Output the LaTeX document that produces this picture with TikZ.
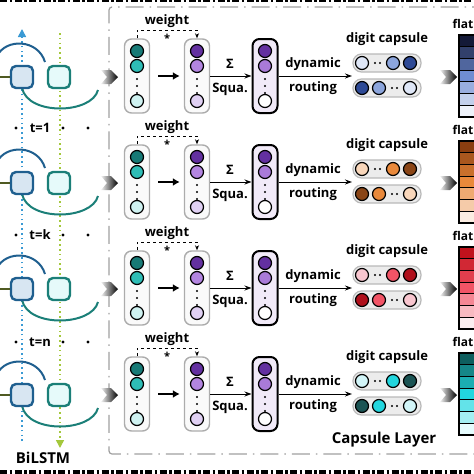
\documentclass[tikz,border=0pt]{standalone}
\usepackage{fontspec}
\setmainfont{Open Sans}
\usetikzlibrary{arrows.meta,positioning}

\definecolor{lstmblue}{HTML}{1F5F8F}
\definecolor{lstmfill}{HTML}{D8E6F2}
\definecolor{lstmteal}{HTML}{1B7F78}
\definecolor{tealfill}{HTML}{E6FAFA}
\definecolor{lstmolive}{HTML}{4F5A22}
\definecolor{fwdblue}{HTML}{3A9AD4}
\definecolor{bwdgreen}{HTML}{A4C83C}
\definecolor{tA1}{HTML}{177A76}
\definecolor{tA2}{HTML}{2EBDB6}
\definecolor{tA3}{HTML}{CFF2F1}
\definecolor{pB1}{HTML}{6330A0}
\definecolor{pB2}{HTML}{B385E0}
\definecolor{pB3}{HTML}{E0D0F3}
\definecolor{pC2}{HTML}{A97AD8}
\definecolor{pCfill}{HTML}{F1EAF8}
% digit capsule / flatten colours per row
\definecolor{d1}{HTML}{2E4A96}\definecolor{m1}{HTML}{6F8DD2}\definecolor{l1}{HTML}{EEF2FA}\definecolor{f1}{HTML}{141A38}
\definecolor{d2}{HTML}{8A4516}\definecolor{m2}{HTML}{E9893B}\definecolor{l2}{HTML}{FBEDE2}\definecolor{f2}{HTML}{8A3E10}
\definecolor{d3}{HTML}{B0101C}\definecolor{m3}{HTML}{F25466}\definecolor{l3}{HTML}{FBEEF0}\definecolor{f3}{HTML}{C0121C}
\definecolor{d4}{HTML}{1B5454}\definecolor{m4}{HTML}{22D6DE}\definecolor{l4}{HTML}{E6FCFE}\definecolor{f4}{HTML}{0E5E5E}
\definecolor{dl1}{HTML}{DEE6F6}\definecolor{dm1}{HTML}{8CA5DC}
\definecolor{dl2}{HTML}{F8D6BA}\definecolor{dm2}{HTML}{E9893B}
\definecolor{dl3}{HTML}{F8C6CF}\definecolor{dm3}{HTML}{F25466}
\definecolor{dl4}{HTML}{D2F5F8}\definecolor{dm4}{HTML}{22D6DE}

\begin{document}
\begin{tikzpicture}[x=1pt,y=-1pt,
		cell/.style={rectangle,rounded corners=5pt,minimum size=22pt,line width=2.4pt,inner sep=0pt},
		col/.style={rectangle,rounded corners=7pt,draw=gray!65,line width=1.4pt,fill=gray!4,minimum width=25pt,minimum height=74pt,inner sep=0pt},
		ball/.style={circle,draw=black,line width=1.2pt,minimum size=13pt,inner sep=0pt},
		pill/.style={rectangle,rounded corners=8.5pt,draw=gray!55,fill=gray!15,line width=1.2pt,minimum width=68pt,minimum height=18pt,inner sep=0pt},
		dot/.style={circle,fill=black,inner sep=0pt,minimum size=2.6pt},
		txt/.style={font=\fontsize{13}{13}\bfseries\selectfont,inner sep=0pt},
		big/.style={font=\fontsize{15}{15}\bfseries\selectfont,inner sep=0pt},
		fwd/.style={fwdblue,line width=1.6pt,dash pattern=on 1.6pt off 3.2pt},
		bwd/.style={bwdgreen,line width=1.6pt,dash pattern=on 1.6pt off 3.2pt},
		chevron/.pic={\shade[left color=gray!10,middle color=black!70,right color=black] (0,-7) -- (10,-7) -- (17,0) -- (10,7) -- (0,7) -- (6,0) -- cycle;}
	]
	\useasboundingbox (0,0) rectangle (474,474);
	\clip (0,0) rectangle (474,474);
	
	% outer frame (cut)
	\draw[line width=3pt,dash pattern=on 7pt off 2.5pt on 2.5pt off 2.5pt] (0,0.5) -- (474,0.5);
	\draw[line width=5pt,dash pattern=on 7pt off 2.5pt on 2.5pt off 2.5pt] (0,472) -- (474,472);
	
	% capsule layer frame
	\draw[gray!75,line width=1.2pt,dash pattern=on 18pt off 6pt on 1.5pt off 6pt,rounded corners=3pt] (490,7) -- (109,7) -- (109,454) -- (490,454);
	\node[big] (caplayer) at (384,440) {Capsule Layer};
	
	% bilstm directions
	\coordinate (fwdS) at (22,441);
	\coordinate (fwdE) at (22,29);
	\coordinate (bwdS) at (60,33);
	\coordinate (bwdE) at (60,448);
	\draw[fwd,-{Triangle[length=8pt,width=8pt]}] (fwdS) -- (fwdE);
	\draw[bwd,-{Triangle[length=8pt,width=8pt]}] (bwdS) -- (bwdE);
	\node[big] (bilstm) at (43,458) {BiLSTM};
	
	\foreach \t/\ty [count=\i] in {t=1/128,t=k/235,t=n/342} {
		\node[txt] (t\i) at (40,\ty) {\t};
		\node[dot,minimum size=3.2pt] (tl\i) at (16,\ty) {};
		\node[dot,minimum size=3.2pt] (tm\i) at (63,\ty) {};
		\node[dot,minimum size=3.2pt] (tr\i) at (88,\ty) {};
	}
	
	\foreach \r/\yc in {1/76,2/182,3/288,4/394} {
		% lstm cells
		\draw[lstmblue,line width=2pt] (-3,\yc-20) .. controls (6,\yc-38) and (38,\yc-37) .. (45,\yc-14);
		\draw[lstmteal,line width=2pt] (22,\yc+12) .. controls (28,\yc+40) and (92,\yc+38) .. (98,\yc+14);
		\coordinate (x\r) at (-2,\yc+1);
		\node[cell,draw=lstmblue,fill=lstmfill] (h\r) at (22,\yc+1) {};
		\node[cell,draw=lstmteal,fill=tealfill] (g\r) at (59,\yc+1) {};
		\draw[lstmolive,line width=2pt] (x\r) -- (h\r);
		\pic at (101,\yc+1) {chevron};
		
		% primary capsules
		\node[col] (colA\r) at (137,\yc) {};
		\node[col] (colB\r) at (197,\yc) {};
		\node[col,draw=black,line width=2pt,fill=pCfill] (colC\r) at (265,\yc) {};
		\foreach \x/\cn/\ca/\cb/\cc in {137/a/tA1/tA2/tA3,197/b/pB1/pB2/pB3,265/c/pB1/pC2/white} {
			\node[ball,fill=\ca] (\cn\r1) at (\x,\yc-25) {};
			\node[ball,fill=\cb] (\cn\r2) at (\x,\yc-10) {};
			\node[ball,fill=\cc] (\cn\r3) at (\x,\yc+25) {};
			\foreach \dd in {3,10,17}
				\node[dot,minimum size=2.4pt] (\cn\r d\dd) at (\x,\yc+\dd) {};
		}
		\draw[dashed,line width=0.9pt,-{Stealth[length=5pt,width=4pt]}] (colA\r.north) -- ++(0,-8) -| (colB\r.north);
		\node[txt] (w\r) at (167,\yc-55) {weight};
		\node[txt,font=\fontsize{11}{11}\bfseries\selectfont] (star\r) at (167,\yc-38) {*};
		\draw[line width=2.2pt,shorten <=8pt,shorten >=4pt,-{Latex[length=7pt,width=8pt]}] (colA\r) -- (colB\r);
		\draw[line width=1pt,-{Stealth[length=7pt,width=5pt]}] (colB\r) -- (colC\r);
		\node[txt] (sum\r) at (230,\yc-12) {Σ};
		\node[txt] (squa\r) at (230,\yc+13) {Squa.};
		
		% digit capsules
		\coordinate (dg\r) at (352,\yc);
		\draw[line width=1pt,-{Stealth[length=7pt,width=5pt]}] (colC\r) -- (dg\r);
		\node[txt] (dyn\r) at (313,\yc-12) {dynamic};
		\node[txt] (rout\r) at (313,\yc+12) {routing};
		\node[txt] (dc\r) at (387,\yc-37) {digit capsule};
		\node[pill] (pu\r) at (387,\yc-13) {};
		\node[pill] (pd\r) at (387,\yc+12) {};
		\node[ball,fill=dl\r] (u\r1) at (362,\yc-13) {};
		\node[dot,minimum size=2.2pt] (u\r d1) at (375,\yc-13) {};
		\node[dot,minimum size=2.2pt] (u\r d2) at (380,\yc-13) {};
		\node[ball,fill=dm\r] (u\r2) at (393,\yc-13) {};
		\node[ball,fill=d\r] (u\r3) at (410,\yc-13) {};
		\node[ball,fill=d\r] (v\r1) at (362,\yc+12) {};
		\node[ball,fill=dm\r] (v\r2) at (379,\yc+12) {};
		\node[dot,minimum size=2.2pt] (v\r d1) at (392,\yc+12) {};
		\node[dot,minimum size=2.2pt] (v\r d2) at (397,\yc+12) {};
		\node[ball,fill=dl\r] (v\r3) at (410,\yc+12) {};
		\pic at (440,\yc+1) {chevron};
		
		% flatten
		\node[txt,font=\fontsize{12}{12}\bfseries\selectfont,anchor=east] (fl\r) at (473.5,\yc-52) {flat};
		\foreach \k in {0,...,3} {
			\pgfmathtruncatemacro\p{\k*100/3}
			\pgfmathsetmacro\ya{\yc-41+\k*11.7}
			\draw[line width=1.2pt,fill=m\r!\p!f\r] (459,\ya) rectangle (495,\ya+11.7);
		}
		\foreach \k in {1,2,3} {
			\pgfmathtruncatemacro\p{\k*100/3}
			\pgfmathsetmacro\ya{\yc-41+(\k+3)*11.7}
			\draw[line width=1.2pt,fill=l\r!\p!m\r] (459,\ya) rectangle (495,\ya+11.7);
		}
	}
	
\end{tikzpicture}
\end{document}
